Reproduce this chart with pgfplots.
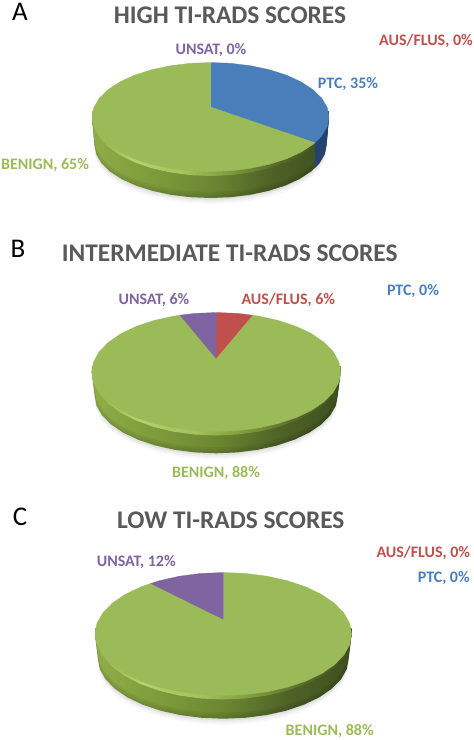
\documentclass[border=0pt]{standalone}
\usepackage{fontspec}
\setmainfont{Carlito}
\usepackage{pgfplots}
\usepackage{pgfplotstable}
\pgfplotsset{compat=1.18}

\definecolor{gface}{HTML}{9BBB59}
\definecolor{bface}{HTML}{4A7EBB}
\definecolor{rface}{HTML}{C0504D}
\definecolor{pface}{HTML}{8064A2}
\definecolor{bside}{HTML}{24436F}
\definecolor{ttl}{HTML}{595959}
\definecolor{sa}{HTML}{8FAD47}\definecolor{sb}{HTML}{7E9B3B}
\definecolor{sc}{HTML}{6C8732}\definecolor{sd}{HTML}{4F6427}
\definecolor{se}{HTML}{3E4F1E}
\definecolor{ra}{HTML}{93B04A}\definecolor{rb}{HTML}{B4D26B}
\definecolor{rc}{HTML}{A6C45E}\definecolor{rd}{HTML}{7F9A3C}
\definecolor{re}{HTML}{566A2A}\definecolor{rf}{HTML}{48592A}

% inner 25..75bp of a horizontal shading is what spans the path
\pgfdeclarehorizontalshading{sidegreen}{100bp}{
  color(0bp)=(sa); color(25bp)=(sa); color(38bp)=(sb);
  color(50bp)=(sc); color(62bp)=(sd); color(75bp)=(se); color(100bp)=(se)}
\pgfdeclarehorizontalshading{rimgreen}{100bp}{
  color(0bp)=(ra); color(25bp)=(ra); color(34bp)=(rb); color(45bp)=(rc);
  color(56bp)=(rd); color(66bp)=(re); color(75bp)=(rf); color(100bp)=(rf)}

\pgfplotstableread{
x y
92 117
94.5 145
96.3 154.2
101.5 163.1
110 171.5
121.6 179.1
135.9 185.6
152.5 190.9
170.8 194.8
190.4 197.2
210.5 198
230.6 197.2
250.2 194.8
268.5 190.9
285.1 185.6
299.4 179.1
311 171.5
319.5 163.1
324.7 154.2
326.5 145
329 117
}\sideA
\pgfplotstableread{
x y
91.7 372
94.7 395.3
96.5 405.4
102 415.1
111 424.3
123.1 432.6
138.1 439.7
155.45 445.5
174.65 449.8
195.1 452.4
216.2 453.3
237.3 452.4
257.75 449.8
276.95 445.5
294.3 439.7
309.3 432.6
321.4 424.3
330.4 415.1
335.9 405.4
337.7 395.3
340.7 372
}\sideB
\pgfplotstableread{
x y
95 634
98 658.7
99.9 669.1
105.56 679.2
114.8 688.7
127.3 697.3
142.76 704.7
160.65 710.7
180.45 715.1
201.54 717.8
223.3 718.7
245.06 717.8
266.15 715.1
285.95 710.7
303.84 704.7
319.3 697.3
331.8 688.7
341.04 679.2
346.7 669.1
348.6 658.7
351.6 634
}\sideC

\begin{document}
\begin{tikzpicture}[
  every node/.append style={inner sep=0pt,outer sep=0pt},
  lab/.style={anchor=base,font=\fontsize{16}{17}\selectfont\bfseries},
  ttlnode/.style={anchor=base,text=ttl,font=\fontsize{25.4}{26}\selectfont\bfseries},
  letter/.style={anchor=base,text=black,font=\fontsize{27}{28}\selectfont},
  shad/.style={draw=none,fill=gray},
  band/.style={draw=none,fill=black},
]
\begin{axis}[
  scale only axis,
  width=474pt,height=740pt,
  xmin=0,xmax=474,ymin=0,ymax=740,
  y dir=reverse,
  hide axis,
  clip=false,
]
% --- A ---
\addplot[shad,fill opacity=.06] table[x=x,y expr=\thisrow{y}+6] {\sideA};
\addplot[shad,fill opacity=.08] table[x=x,y expr=\thisrow{y}+4] {\sideA};
\addplot[shad,fill opacity=.12] table[x=x,y expr=\thisrow{y}+2] {\sideA};
\addplot[draw=none,shading=sidegreen] table[x=x,y=y] {\sideA};
\addplot[band,fill opacity=.13] table[x=x,y=y] {\sideA};
\addplot[draw=none,shading=sidegreen] table[x=x,y expr=\thisrow{y}-2] {\sideA};
\addplot[band,fill opacity=.09] table[x=x,y expr=\thisrow{y}-2] {\sideA};
\addplot[draw=none,shading=sidegreen] table[x=x,y expr=\thisrow{y}-4] {\sideA};
\addplot[band,fill opacity=.05] table[x=x,y expr=\thisrow{y}-4] {\sideA};
\addplot[draw=none,shading=sidegreen] table[x=x,y expr=\thisrow{y}-6] {\sideA};
\addplot[draw=none,fill=bside] coordinates {(315,142.7)(315,168)(319.5,163.1)(324.7,154.2)(326.5,145)(329,117)(315,117)};
\addplot[draw=none,shading=rimgreen] coordinates {(92,117)(93.8,127.2)(99.1,137.2)(107.9,146.5)(119.7,154.9)(134.3,162.2)(151.25,168.1)(170,172.4)(189.9,175.1)(210.5,176)(231.1,175.1)(251,172.4)(269.75,168.1)(286.7,162.2)(301.3,154.9)(313.1,146.5)(315,144)};
% PTC 35
\addplot[draw=bface,fill=bface,line width=.3pt] coordinates {(210.5,107)(210.5,62.5)(231.1,63.33)(251,65.8)(269.75,69.8)(286.7,75.25)(301.3,82)(313.1,89.75)(321.9,98.36)(327.2,107.54)(329,117)(327.2,126.46)(321.9,135.64)(315,142.7)(210.5,107)};
% BENIGN 65
\addplot[draw=gface,fill=gface,line width=.3pt] coordinates {(210.5,107)(315,142.7)(313.1,144.25)(301.3,152)(286.7,158.75)(269.75,164.2)(251,168.2)(231.1,170.67)(210.5,171.5)(189.9,170.67)(170,168.2)(151.25,164.2)(134.3,158.75)(119.7,152)(107.9,144.25)(99.1,135.64)(93.8,126.46)(92,117)(93.8,107.54)(99.1,98.36)(107.9,89.75)(119.7,82)(134.3,75.25)(151.25,69.8)(170,65.8)(189.9,63.33)(210.5,62.5)(210.5,107)};
\node[letter] at (axis cs:20,20) {A};
\node[ttlnode] at (axis cs:230,23.5) {HIGH TI-RADS SCORES};
\node[lab,text=pface] at (axis cs:211,54) {UNSAT, 0\%};
\node[lab,text=rface] at (axis cs:426,45) {AUS/FLUS, 0\%};
\node[lab,text=bface] at (axis cs:348,88) {PTC, 35\%};
\node[lab,text=gface] at (axis cs:45,169) {BENIGN, 65\%};
% --- B ---
\addplot[shad,fill opacity=.06] table[x=x,y expr=\thisrow{y}+6] {\sideB};
\addplot[shad,fill opacity=.08] table[x=x,y expr=\thisrow{y}+4] {\sideB};
\addplot[shad,fill opacity=.12] table[x=x,y expr=\thisrow{y}+2] {\sideB};
\addplot[draw=none,shading=sidegreen] table[x=x,y=y] {\sideB};
\addplot[band,fill opacity=.13] table[x=x,y=y] {\sideB};
\addplot[draw=none,shading=sidegreen] table[x=x,y expr=\thisrow{y}-2] {\sideB};
\addplot[band,fill opacity=.09] table[x=x,y expr=\thisrow{y}-2] {\sideB};
\addplot[draw=none,shading=sidegreen] table[x=x,y expr=\thisrow{y}-4] {\sideB};
\addplot[band,fill opacity=.05] table[x=x,y expr=\thisrow{y}-4] {\sideB};
\addplot[draw=none,shading=sidegreen] table[x=x,y expr=\thisrow{y}-6] {\sideB};
\addplot[draw=none,shading=rimgreen] coordinates {(91.7,372)(93.6,383)(99.2,393.7)(108.4,403.75)(120.8,412.8)(136.2,420.6)(153.95,427)(173.6,431.7)(194.6,434.5)(216.2,435.5)(237.8,434.5)(258.8,431.7)(278.45,427)(296.2,420.6)(311.6,412.8)(324,403.75)(333.2,393.7)(338.8,383)(340.7,372)};
% BENIGN 88
\addplot[draw=gface,fill=gface,line width=.3pt] coordinates {(216,358.3)(252.3,315.2)(258.8,316.1)(278.45,320.5)(296.2,326.4)(311.6,333.75)(324,342.25)(333.2,351.65)(338.8,361.7)(340.7,372)(338.8,382.3)(333.2,392.35)(324,401.75)(311.6,410.25)(296.2,417.6)(278.45,423.5)(258.8,427.9)(237.8,430.6)(216.2,431.5)(194.6,430.6)(173.6,427.9)(153.95,423.5)(136.2,417.6)(120.8,410.25)(108.4,401.75)(99.2,392.35)(93.6,382.3)(91.7,372)(93.6,361.7)(99.2,351.65)(108.4,342.25)(120.8,333.75)(136.2,326.4)(153.95,320.5)(173.6,316.1)(180,315.2)(216,358.3)};
% AUS/FLUS 6
\addplot[draw=rface,fill=rface,line width=.3pt] coordinates {(216,358.3)(216.2,312.5)(237.8,313.4)(252.3,315.2)(216,358.3)};
% UNSAT 6
\addplot[draw=pface,fill=pface,line width=.3pt] coordinates {(216,358.3)(180,315.2)(194.6,313.4)(216.2,312.5)(216,358.3)};
\node[letter] at (axis cs:18,257.5) {B};
\node[ttlnode] at (axis cs:229.7,261.5) {INTERMEDIATE TI-RADS SCORES};
\node[lab,text=pface] at (axis cs:154,304.3) {UNSAT, 6\%};
\node[lab,text=rface] at (axis cs:288.3,304.3) {AUS/FLUS, 6\%};
\node[lab,text=bface] at (axis cs:413,295) {PTC, 0\%};
\node[lab,text=gface] at (axis cs:216,477.7) {BENIGN, 88\%};
% --- C ---
\addplot[shad,fill opacity=.06] table[x=x,y expr=\thisrow{y}+6] {\sideC};
\addplot[shad,fill opacity=.08] table[x=x,y expr=\thisrow{y}+4] {\sideC};
\addplot[shad,fill opacity=.12] table[x=x,y expr=\thisrow{y}+2] {\sideC};
\addplot[draw=none,shading=sidegreen] table[x=x,y=y] {\sideC};
\addplot[band,fill opacity=.13] table[x=x,y=y] {\sideC};
\addplot[draw=none,shading=sidegreen] table[x=x,y expr=\thisrow{y}-2] {\sideC};
\addplot[band,fill opacity=.09] table[x=x,y expr=\thisrow{y}-2] {\sideC};
\addplot[draw=none,shading=sidegreen] table[x=x,y expr=\thisrow{y}-4] {\sideC};
\addplot[band,fill opacity=.05] table[x=x,y expr=\thisrow{y}-4] {\sideC};
\addplot[draw=none,shading=sidegreen] table[x=x,y expr=\thisrow{y}-6] {\sideC};
\addplot[draw=none,shading=rimgreen] coordinates {(95,634)(96.95,645.4)(102.74,656.4)(112.2,666.75)(125,676.1)(140.83,684.2)(159.15,690.7)(179.42,695.55)(201.02,698.5)(223.3,699.5)(245.58,698.5)(267.18,695.55)(287.45,690.7)(305.77,684.2)(321.6,676.1)(334.4,666.75)(343.86,656.4)(349.65,645.4)(351.6,634)};
% BENIGN 88
\addplot[draw=gface,fill=gface,line width=.3pt] coordinates {(223.3,619.3)(223.3,572.5)(245.58,573.44)(267.18,576.21)(287.45,580.74)(305.77,586.9)(321.6,594.47)(334.4,603.25)(343.86,612.97)(349.65,623.32)(351.6,634)(349.65,644.68)(343.86,655.03)(334.4,664.75)(321.6,673.53)(305.77,681.1)(287.45,687.26)(267.18,691.79)(245.58,694.56)(223.3,695.5)(201.02,694.56)(179.42,691.79)(159.15,687.26)(140.83,681.1)(125,673.53)(112.2,664.75)(102.74,655.03)(96.95,644.68)(95,634)(96.95,623.32)(102.74,612.97)(112.2,603.25)(125,594.47)(140.83,586.9)(150.7,583.5)(223.3,619.3)};
% UNSAT 12
\addplot[draw=pface,fill=pface,line width=.3pt] coordinates {(223.3,619.3)(150.7,583.5)(159.15,580.74)(179.42,576.21)(201.02,573.44)(223.3,572.5)(223.3,619.3)};
\node[letter] at (axis cs:20,525.5) {C};
\node[ttlnode] at (axis cs:230.8,528.2) {LOW TI-RADS SCORES};
\node[lab,text=pface] at (axis cs:136.3,566) {UNSAT, 12\%};
\node[lab,text=rface] at (axis cs:423.3,557.3) {AUS/FLUS, 0\%};
\node[lab,text=bface] at (axis cs:443.8,582.3) {PTC, 0\%};
\node[lab,text=gface] at (axis cs:329.7,735.7) {BENIGN, 88\%};
\end{axis}
\pgfresetboundingbox
\path[use as bounding box] (current axis.south west) rectangle (current axis.north east);
\end{tikzpicture}
\end{document}
